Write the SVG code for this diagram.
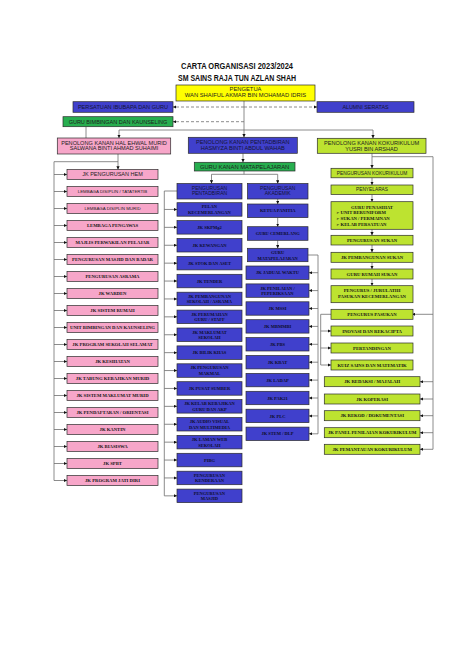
<svg xmlns="http://www.w3.org/2000/svg" width="474" height="670" viewBox="0 0 474 670">
<style>
.bx{stroke:#2b2b2b;stroke-width:0.7}
.b{fill:#4040cc}.p{fill:#f7a6c9}.g{fill:#27ae4f}.y{fill:#bde330}.ye{fill:#ffff00}
text{text-anchor:middle}
.s{font-family:"Liberation Sans",Arial,sans-serif;fill:#1e1e1e}
.t{font-family:"Liberation Serif","Times New Roman",serif;font-weight:bold;font-size:4.7px;fill:#151515}
.tb{font-family:"Liberation Serif","Times New Roman",serif;font-weight:bold;font-size:4.5px;fill:#0d0d2a}
.sb{fill:#141436}
.ln{stroke:#6e6e6e;stroke-width:0.8;fill:none}
.ar{marker-end:url(#a)}
.ds{stroke:#6e6e6e;stroke-width:0.8;stroke-dasharray:3 2;fill:none}
</style>
<defs>
<marker id="a" viewBox="0 0 6 6" refX="6" refY="3" markerWidth="3.2" markerHeight="3.2" markerUnits="userSpaceOnUse" orient="auto-start-reverse"><path d="M0,0L6,3L0,6z" fill="#111"/></marker>
</defs>
<rect width="474" height="670" fill="#fff"/>
<g id="title" font-family="Liberation Sans,Arial,sans-serif" font-weight="bold" font-size="8.5" fill="#111">
<text x="237" y="69" textLength="112" lengthAdjust="spacingAndGlyphs">CARTA ORGANISASI 2023/2024</text>
<text x="237" y="81" textLength="118" lengthAdjust="spacingAndGlyphs">SM SAINS RAJA TUN AZLAN SHAH</text>
</g>
<g id="connectors">
<path class="ln" d="M244,101V130M119,130H373"/>
<path class="ln ar" d="M119,130V138"/>
<path class="ln ar" d="M244,130V137.3"/>
<path class="ln ar" d="M373,130V138.3"/>
<path class="ds ar" d="M244,107H317"/>
<path class="ds ar" d="M244,107H173"/>
<path class="ds ar" d="M244,121.7H173"/>
<path class="ln" d="M86,126.7V138"/>
<path class="ln ar" d="M118,154V169.5"/>
<path class="ln" d="M118,161.7H54V480.5"/>
<g class="ln ar">
<path d="M54,174.5H67"/><path d="M54,191.5H67"/><path d="M54,208.5H67"/><path d="M54,225.5H67"/><path d="M54,242.5H67"/><path d="M54,259.5H67"/><path d="M54,276.5H67"/><path d="M54,293.5H67"/><path d="M54,310.5H67"/><path d="M54,327.5H67"/><path d="M54,344.5H67"/><path d="M54,361.5H67"/><path d="M54,378.5H67"/><path d="M54,395.5H67"/><path d="M54,412.5H67"/><path d="M54,429.5H67"/><path d="M54,446.5H67"/><path d="M54,463.5H67"/><path d="M54,480.5H67"/>
</g>
<path class="ln ar" d="M243,153.3V162.3"/>
<path class="ln" d="M244,171V174.3M211.5,174.3H277.7"/>
<path class="ln ar" d="M211.5,174.3V183.5"/>
<path class="ln ar" d="M277.7,174.3V183.5"/>
<path class="ln" d="M177,191H164.3V495.85"/>
<g class="ln ar">
<path d="M164.3,209.45H177"/><path d="M164.3,227.35H177"/><path d="M164.3,245.25H177"/><path d="M164.3,263.15H177"/><path d="M164.3,281.05H177"/><path d="M164.3,298.95H177"/><path d="M164.3,316.85H177"/><path d="M164.3,334.75H177"/><path d="M164.3,352.65H177"/><path d="M164.3,370.55H177"/><path d="M164.3,388.45H177"/><path d="M164.3,406.35H177"/><path d="M164.3,424.25H177"/><path d="M164.3,442.15H177"/><path d="M164.3,460.05H177"/><path d="M164.3,477.95H177"/><path d="M164.3,495.85H177"/>
</g>
<g class="ln ar">
<path d="M277.7,199V204"/><path d="M277.7,217.6V226.7"/><path d="M277.7,240.3V248.3"/>
</g>
<path class="ln" d="M308,255H318V433.8"/>
<g class="ln ar">
<path d="M318,272.7H309"/><path d="M318,290.6H309"/><path d="M318,308.5H309"/><path d="M318,326.4H309"/><path d="M318,344.3H309"/><path d="M318,362.2H309"/><path d="M318,380.1H309"/><path d="M318,398H309"/><path d="M318,415.9H309"/><path d="M318,433.8H309"/>
</g>
<g class="ln ar">
<path d="M372,153.3V168.3"/><path d="M372,177.8V185"/><path d="M372,194.5V201.7"/><path d="M372,229.3V235.3"/><path d="M372,245V252.3"/><path d="M372,262.3V269"/><path d="M372,279V285.7"/>
</g>
<path class="ln" d="M372,156.7H433V449.3"/>
<g class="ln ar">
<path d="M433,314.3H412"/><path d="M433,381.7H420"/><path d="M433,399H420"/><path d="M433,415.7H420"/><path d="M433,432.7H420"/><path d="M433,449.3H420"/>
</g>
<path class="ln" d="M331,314.3H320.7V365"/>
<g class="ln ar">
<path d="M320.7,331H331"/><path d="M320.7,348H331"/><path d="M320.7,365H331"/>
</g>
</g>
<g id="pengetua"><rect class="bx ye" x="176" y="85" width="139" height="16"/><text class="s" x="245.5" y="91" font-size="5.8">PENGETUA</text><text class="s" x="245.5" y="97.3" font-size="5.8">WAN SHAIFUL AKMAR BIN MOHAMAD IDRIS</text></g>
<g id="pibg-top"><rect class="bx b" x="73" y="101.7" width="100" height="10.6"/><text class="s sb" x="123" y="109" font-size="5.6">PERSATUAN IBUBAPA DAN GURU</text></g>
<g id="alumni"><rect class="bx b" x="317" y="101.7" width="97" height="10.6"/><text class="s sb" x="365.5" y="109" font-size="5.4">ALUMNI SERATAS</text></g>
<g id="gbk"><rect class="bx g" x="63" y="116.7" width="110" height="10"/><text class="s" x="118" y="123.6" font-size="5.5">GURU BIMBINGAN DAN KAUNSELING</text></g>
<g id="pk-hem"><rect class="bx p" x="57.3" y="138" width="113.4" height="16"/><text class="s" x="114" y="144.7" font-size="5.6">PENOLONG KANAN HAL EHWAL MURID</text><text class="s" x="114" y="149.9" font-size="5.6">SALWANA BINTI AHMAD SUHAIMI</text></g>
<g id="pk-pentadbiran"><rect class="bx b" x="188.3" y="137.3" width="109" height="16"/><text class="s sb" x="242.8" y="144.3" font-size="5.6">PENOLONG KANAN PENTADBIRAN</text><text class="s sb" x="242.8" y="149.5" font-size="5.6">HASMYZA BINTI ABDUL WAHAB</text></g>
<g id="pk-koku"><rect class="bx y" x="317.3" y="138.3" width="108.7" height="15"/><text class="s" x="371.6" y="145.2" font-size="5.6">PENOLONG KANAN KOKURIKULUM</text><text class="s" x="371.6" y="150.8" font-size="5.6">YUSRI BIN ARSHAD</text></g>
<g id="gkmp"><rect class="bx g" x="194.3" y="162.3" width="100.7" height="8.7"/><text class="s" x="244.6" y="168.7" font-size="5.8">GURU KANAN MATAPELAJARAN</text></g>
<g id="hem-list">
<g id="h0"><rect class="bx p" x="67" y="169.5" width="91" height="10"/><text class="s" x="112.5" y="176.45" font-size="5.5">JK PENGURUSAN HEM</text></g>
<g id="h1"><rect class="bx p" x="67" y="186.5" width="91" height="10"/><text class="s" x="112.5" y="193.05" font-size="4.4">LEMBAGA DISIPLIN / TATATERTIB</text></g>
<g id="h2"><rect class="bx p" x="67" y="203.5" width="91" height="10"/><text class="s" x="112.5" y="210.05" font-size="4.4">LEMBAGA DISIPLIN MURID</text></g>
<g id="h3"><rect class="bx p" x="67" y="220.5" width="91" height="10"/><text class="t" x="112.5" y="227.15">LEMBAGA PENGAWAS</text></g>
<g id="h4"><rect class="bx p" x="67" y="237.5" width="91" height="10"/><text class="t" x="112.5" y="244.15">MAJLIS PERWAKILAN PELAJAR</text></g>
<g id="h5"><rect class="bx p" x="67" y="254.5" width="91" height="10"/><text class="t" x="112.5" y="261.15">PENGURUSAN MASJID DAN BADAR</text></g>
<g id="h6"><rect class="bx p" x="67" y="271.5" width="91" height="10"/><text class="t" x="112.5" y="278.15">PENGURUSAN ASRAMA</text></g>
<g id="h7"><rect class="bx p" x="67" y="288.5" width="91" height="10"/><text class="t" x="112.5" y="295.15">JK WARDEN</text></g>
<g id="h8"><rect class="bx p" x="67" y="305.5" width="91" height="10"/><text class="t" x="112.5" y="312.15">JK SISTEM RUMAH</text></g>
<g id="h9"><rect class="bx p" x="67" y="322.5" width="91" height="10"/><text class="t" x="112.5" y="329.15">UNIT BIMBINGAN DAN KAUNSELING</text></g>
<g id="h10"><rect class="bx p" x="67" y="339.5" width="91" height="10"/><text class="t" x="112.5" y="346.15">JK PROGRAM SEKOLAH SELAMAT</text></g>
<g id="h11"><rect class="bx p" x="67" y="356.5" width="91" height="10"/><text class="t" x="112.5" y="363.15">JK KESIHATAN</text></g>
<g id="h12"><rect class="bx p" x="67" y="373.5" width="91" height="10"/><text class="t" x="112.5" y="380.15">JK TABUNG KEBAJIKAN MURID</text></g>
<g id="h13"><rect class="bx p" x="67" y="390.5" width="91" height="10"/><text class="t" x="112.5" y="397.15">JK SISTEM MAKLUMAT MURID</text></g>
<g id="h14"><rect class="bx p" x="67" y="407.5" width="91" height="10"/><text class="t" x="112.5" y="414.15">JK PENDAFTARAN / ORIENTASI</text></g>
<g id="h15"><rect class="bx p" x="67" y="424.5" width="91" height="10"/><text class="t" x="112.5" y="431.15">JK KANTIN</text></g>
<g id="h16"><rect class="bx p" x="67" y="441.5" width="91" height="10"/><text class="t" x="112.5" y="448.15">JK BIASISWA</text></g>
<g id="h17"><rect class="bx p" x="67" y="458.5" width="91" height="10"/><text class="t" x="112.5" y="465.15">JK SPBT</text></g>
<g id="h18"><rect class="bx p" x="67" y="475.5" width="91" height="10"/><text class="t" x="112.5" y="482.15">JK PROGRAM JATI DIRI</text></g>
</g>
<g id="pentadbiran-list">
<g id="a0"><rect class="bx b" x="177" y="183.5" width="65" height="15.5"/><text class="s sb" x="209.5" y="189.6" font-size="5">PENGURUSAN</text><text class="s sb" x="209.5" y="195.2" font-size="5">PENTADBIRAN</text></g>
<g id="a1"><rect class="bx b" x="177" y="202.7" width="65" height="13.5"/><text class="tb" x="209.5" y="208.35">PELAN</text><text class="tb" x="209.5" y="213.95">KECEMERLANGAN</text></g>
<g id="a2"><rect class="bx b" x="177" y="220.6" width="65" height="13.5"/><text class="tb" x="209.5" y="228.95">JK SKPMg2</text></g>
<g id="a3"><rect class="bx b" x="177" y="238.5" width="65" height="13.5"/><text class="tb" x="209.5" y="246.85">JK KEWANGAN</text></g>
<g id="a4"><rect class="bx b" x="177" y="256.4" width="65" height="13.5"/><text class="tb" x="209.5" y="264.75">JK STOK DAN ASET</text></g>
<g id="a5"><rect class="bx b" x="177" y="274.3" width="65" height="13.5"/><text class="tb" x="209.5" y="282.65">JK TENDER</text></g>
<g id="a6"><rect class="bx b" x="177" y="292.2" width="65" height="13.5"/><text class="tb" x="209.5" y="297.85">JK PEMBANGUNAN</text><text class="tb" x="209.5" y="303.45">SEKOLAH / ASRAMA</text></g>
<g id="a7"><rect class="bx b" x="177" y="310.1" width="65" height="13.5"/><text class="tb" x="209.5" y="315.75">JK PERUMAHAN</text><text class="tb" x="209.5" y="321.35">GURU / STAFF</text></g>
<g id="a8"><rect class="bx b" x="177" y="328" width="65" height="13.5"/><text class="tb" x="209.5" y="333.65">JK MAKLUMAT</text><text class="tb" x="209.5" y="339.25">SEKOLAH</text></g>
<g id="a9"><rect class="bx b" x="177" y="345.9" width="65" height="13.5"/><text class="tb" x="209.5" y="354.25">JK BILIK KHAS</text></g>
<g id="a10"><rect class="bx b" x="177" y="363.8" width="65" height="13.5"/><text class="tb" x="209.5" y="369.45">JK PENGURUSAN</text><text class="tb" x="209.5" y="375.05">MAKMAL</text></g>
<g id="a11"><rect class="bx b" x="177" y="381.7" width="65" height="13.5"/><text class="tb" x="209.5" y="390.05">JK PUSAT SUMBER</text></g>
<g id="a12"><rect class="bx b" x="177" y="399.6" width="65" height="13.5"/><text class="tb" x="209.5" y="405.25">JK KELAB KEBAJIKAN</text><text class="tb" x="209.5" y="410.85">GURU DAN AKP</text></g>
<g id="a13"><rect class="bx b" x="177" y="417.5" width="65" height="13.5"/><text class="tb" x="209.5" y="423.15">JK AUDIO VISUAL</text><text class="tb" x="209.5" y="428.75">DAN MULTIMEDIA</text></g>
<g id="a14"><rect class="bx b" x="177" y="435.4" width="65" height="13.5"/><text class="tb" x="209.5" y="441.05">JK LAMAN WEB</text><text class="tb" x="209.5" y="446.65">SEKOLAH</text></g>
<g id="a15"><rect class="bx b" x="177" y="453.3" width="65" height="13.5"/><text class="tb" x="209.5" y="461.65">PIBG</text></g>
<g id="a16"><rect class="bx b" x="177" y="471.2" width="65" height="13.5"/><text class="tb" x="209.5" y="476.85">PENGURUSAN</text><text class="tb" x="209.5" y="482.45">KENDERAAN</text></g>
<g id="a17"><rect class="bx b" x="177" y="489.1" width="65" height="13.5"/><text class="tb" x="209.5" y="494.75">PENGURUSAN</text><text class="tb" x="209.5" y="500.35">MASJID</text></g>
</g>
<g id="akademik-list">
<g id="k0"><rect class="bx b" x="247.5" y="183.5" width="60.5" height="15.5"/><text class="s sb" x="277.7" y="189.6" font-size="5">PENGURUSAN</text><text class="s sb" x="277.7" y="195.2" font-size="5">AKADEMIK</text></g>
<g id="k1"><rect class="bx b" x="247.5" y="204" width="60.5" height="13.6"/><text class="tb" x="277.7" y="212.4">KETUA PANITIA</text></g>
<g id="k2"><rect class="bx b" x="247.5" y="226.7" width="60.5" height="13.6"/><text class="tb" x="277.7" y="235.1">GURU CEMERLANG</text></g>
<g id="k3"><rect class="bx b" x="247.5" y="248.3" width="60.5" height="13.4"/><text class="tb" x="277.7" y="253.9">GURU</text><text class="tb" x="277.7" y="259.5">MATAPELAJARAN</text></g>
<g id="k4"><rect class="bx b" x="246" y="266" width="63" height="13.4"/><text class="tb" x="277.5" y="274.3">JK JADUAL WAKTU</text></g>
<g id="k5"><rect class="bx b" x="246" y="283.9" width="63" height="13.4"/><text class="tb" x="277.5" y="289.5">JK PENILAIAN /</text><text class="tb" x="277.5" y="295.1">PEPERIKSAAN</text></g>
<g id="k6"><rect class="bx b" x="246" y="301.8" width="63" height="13.4"/><text class="tb" x="277.5" y="310.1">JK MSSI</text></g>
<g id="k7"><rect class="bx b" x="246" y="319.7" width="63" height="13.4"/><text class="tb" x="277.5" y="328">JK MBMMBI</text></g>
<g id="k8"><rect class="bx b" x="246" y="337.6" width="63" height="13.4"/><text class="tb" x="277.5" y="345.9">JK PBS</text></g>
<g id="k9"><rect class="bx b" x="246" y="355.5" width="63" height="13.4"/><text class="tb" x="277.5" y="363.8">JK KBAT</text></g>
<g id="k10"><rect class="bx b" x="246" y="373.4" width="63" height="13.4"/><text class="tb" x="277.5" y="381.7">JK LADAP</text></g>
<g id="k11"><rect class="bx b" x="246" y="391.3" width="63" height="13.4"/><text class="tb" x="277.5" y="399.6">JK PAK21</text></g>
<g id="k12"><rect class="bx b" x="246" y="409.2" width="63" height="13.4"/><text class="tb" x="277.5" y="417.5">JK PLC</text></g>
<g id="k13"><rect class="bx b" x="246" y="427.1" width="63" height="13.4"/><text class="tb" x="277.5" y="435.4">JK STEM / DLP</text></g>
</g>
<g id="koku-list">
<g id="r0"><rect class="bx y" x="331" y="168.3" width="82" height="9.5"/><text class="s" x="372" y="174.75" font-size="4.8">PENGURUSAN KOKURIKULUM</text></g>
<g id="r1"><rect class="bx y" x="331" y="185" width="82" height="9.5"/><text class="s" x="372" y="191.45" font-size="4.8">PENYELARAS</text></g>
<g id="r2"><rect class="bx y" x="331" y="201.7" width="82" height="27.6"/><text class="t" x="372" y="208.6">GURU PENASIHAT</text>
<g class="t" style="text-anchor:start"><text x="336" y="213.9" style="text-anchor:start"><tspan font-family="DejaVu Sans,sans-serif" font-weight="normal" font-size="4">➢</tspan> UNIT BERUNIFORM</text><text x="336" y="219.9" style="text-anchor:start"><tspan font-family="DejaVu Sans,sans-serif" font-weight="normal" font-size="4">➢</tspan> SUKAN / PERMAINAN</text><text x="336" y="225.9" style="text-anchor:start"><tspan font-family="DejaVu Sans,sans-serif" font-weight="normal" font-size="4">➢</tspan> KELAB PERSATUAN</text></g></g>
<g id="r3"><rect class="bx y" x="331" y="235.3" width="82" height="9.7"/><text class="t" x="372" y="241.8">PENGURUSAN SUKAN</text></g>
<g id="r4"><rect class="bx y" x="331" y="252.3" width="82" height="10"/><text class="t" x="372" y="258.9">JK PEMBANGUNAN SUKAN</text></g>
<g id="r5"><rect class="bx y" x="331" y="269" width="82" height="10"/><text class="t" x="372" y="275.6">GURU RUMAH SUKAN</text></g>
<g id="r6"><rect class="bx y" x="331" y="285.7" width="82" height="17"/><text class="t" x="372" y="291.6">PENGURUS / JURULATIH</text><text class="t" x="372" y="298.3">PASUKAN KECEMERLANGAN</text></g>
<g id="r7"><rect class="bx y" x="331" y="309.3" width="82" height="10"/><text class="t" x="372" y="315.9">PENGURUS PASUKAN</text></g>
<g id="r8"><rect class="bx y" x="331" y="326" width="82" height="10"/><text class="t" x="372" y="332.6">INOVASI DAN REKACIPTA</text></g>
<g id="r9"><rect class="bx y" x="331" y="343" width="82" height="10"/><text class="t" x="372" y="349.6">PERTANDINGAN</text></g>
<g id="r10"><rect class="bx y" x="331" y="360" width="82" height="10"/><text class="t" x="372" y="366.6">KUIZ SAINS DAN MATEMATIK</text></g>
<g id="r11"><rect class="bx y" x="324.3" y="376.7" width="95.7" height="10"/><text class="t" x="372.2" y="383.3">JK REDAKSI / MAJALAH</text></g>
<g id="r12"><rect class="bx y" x="324.3" y="394" width="95.7" height="10"/><text class="t" x="372.2" y="400.6">JK KOPERASI</text></g>
<g id="r13"><rect class="bx y" x="324.3" y="410.7" width="95.7" height="10"/><text class="t" x="372.2" y="417.3">JK REKOD / DOKUMENTASI</text></g>
<g id="r14"><rect class="bx y" x="324.3" y="427.7" width="95.7" height="10"/><text class="t" x="372.2" y="434.3">JK PANEL PENILAIAN KOKURIKULUM</text></g>
<g id="r15"><rect class="bx y" x="324.3" y="444.3" width="95.7" height="10"/><text class="t" x="372.2" y="450.9">JK PEMANTAUAN KOKURIKULUM</text></g>
</g>
</svg>
